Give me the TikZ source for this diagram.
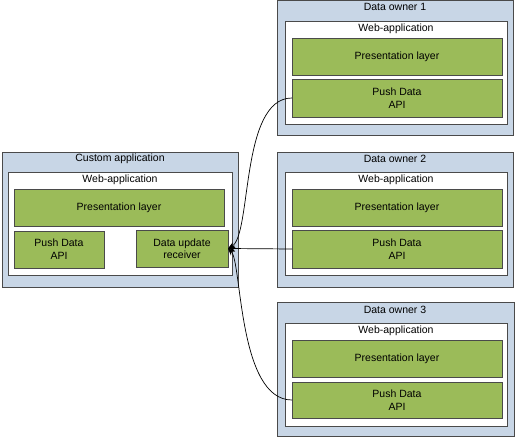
\documentclass[tikz,border=0pt]{standalone}
\usepackage{fontspec}
\setmainfont{Liberation Sans}
\usetikzlibrary{arrows.meta}
\definecolor{outerfill}{HTML}{C8D6E6}
\definecolor{greenfill}{HTML}{9BBB59}
\definecolor{edgegray}{HTML}{4A4A4A}
\begin{document}
\begin{tikzpicture}[x=1pt,y=-1pt,
  every node/.style={font=\fontsize{10.5}{12.5}\selectfont, inner sep=0pt, outer sep=0pt},
  outerbox/.style={draw=edgegray, line width=0.9pt, fill=outerfill, anchor=north west},
  whitebox/.style={draw=edgegray, line width=0.9pt, fill=white, anchor=north west},
  greenbox/.style={draw=edgegray, line width=0.7pt, fill=greenfill, anchor=north west, align=center},
  titletext/.style={anchor=center},
  conn/.style={draw=black, line width=0.7pt, -{Stealth[length=7pt,width=6pt]}}
]
\useasboundingbox (0,0) rectangle (516,438);

% Custom application
\node[outerbox, minimum width=236pt, minimum height=135pt] (cA) at (2,152) {};
\node[titletext] (cAt) at (120,159) {Custom application};
\node[whitebox, minimum width=224pt, minimum height=103pt] (cW) at (8,172) {};
\node[titletext] (cWt) at (120,179.5) {Web-application};
\node[greenbox, minimum width=210pt, minimum height=37pt] (cP) at (14,189) {};
\node (cPt) at (119,207.5) {Presentation layer};
\node[greenbox, minimum width=90pt, minimum height=37pt] (cU) at (14,231) {};
\node[align=center] (cUt) at (59,249) {Push Data\\API};
\node[greenbox, minimum width=92pt, minimum height=37pt] (cR) at (136,230) {};
\node[align=center] (cRt) at (182,248.5) {Data update\\receiver};

% Data owner 1
\node[outerbox, minimum width=236pt, minimum height=135pt] (o1) at (277,0) {};
\node[titletext] (o1t) at (395,6.5) {Data owner 1};
\node[whitebox, minimum width=222pt, minimum height=103pt] (o1W) at (285,21) {};
\node[titletext] (o1Wt) at (396,28.5) {Web-application};
\node[greenbox, minimum width=210pt, minimum height=37pt] (o1P) at (292,38) {};
\node (o1Pt) at (397,56.5) {Presentation layer};
\node[greenbox, minimum width=210pt, minimum height=38pt] (o1U) at (292,79) {};
\node[align=center] (o1Ut) at (397,98) {Push Data\\API};

% Data owner 2
\node[outerbox, minimum width=236pt, minimum height=135pt] (o2) at (277,152) {};
\node[titletext] (o2t) at (395,159) {Data owner 2};
\node[whitebox, minimum width=222pt, minimum height=103pt] (o2W) at (285,172) {};
\node[titletext] (o2Wt) at (396,179.5) {Web-application};
\node[greenbox, minimum width=210pt, minimum height=37pt] (o2P) at (292,189) {};
\node (o2Pt) at (397,207.5) {Presentation layer};
\node[greenbox, minimum width=210pt, minimum height=38pt] (o2U) at (292,230) {};
\node[align=center] (o2Ut) at (397,249) {Push Data\\API};

% Data owner 3
\node[outerbox, minimum width=237pt, minimum height=134pt] (o3) at (277,302) {};
\node[titletext] (o3t) at (395,310) {Data owner 3};
\node[whitebox, minimum width=222pt, minimum height=103pt] (o3W) at (285,323) {};
\node[titletext] (o3Wt) at (396,331) {Web-application};
\node[greenbox, minimum width=210pt, minimum height=37pt] (o3P) at (292,340) {};
\node (o3Pt) at (397,358.5) {Presentation layer};
\node[greenbox, minimum width=210pt, minimum height=36pt] (o3U) at (292,382) {};
\node[align=center] (o3Ut) at (397,400) {Push Data\\API};

% connectors
\coordinate (tip) at (cR.east);
\draw[conn] (o1U.west) .. controls (240,98) and (252,235) .. (tip);
\draw[conn] (o2U.west) -- (tip);
\draw[conn] (o3U.west) .. controls (238,400) and (242,262) .. (tip);
\end{tikzpicture}
\end{document}
